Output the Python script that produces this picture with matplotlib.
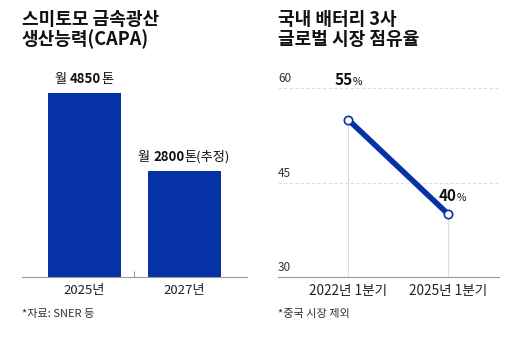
import matplotlib
matplotlib.use("Agg")
import matplotlib.pyplot as plt

plt.rcParams['font.family'] = ['Noto Sans CJK KR', 'DejaVu Sans']

# left chart data
cap_years = ['2025년', '2027년']
cap_values = [4850, 2800]
cap_prefix = ['월 ', '월 ']
cap_suffix = ['톤', '톤(추정)']

# right chart data
share_periods = ['2022년 1분기', '2025년 1분기']
share_values = [55, 40]
share_ticks = [30, 45, 60]

BLUE = '#0632a8'
W, H = 520, 355

fig = plt.figure(figsize=(W / 100, H / 100), dpi=100)


def box(x0, y0, x1, y1):
    # pixel box (top-left origin) -> figure fraction
    return [x0 / W, 1 - y1 / H, (x1 - x0) / W, (y1 - y0) / H]


def rich_text(ax, x, y, parts, gap=0.0, **kw):
    # draw text pieces side by side, centered on x (data), baseline y
    fig.canvas.draw()
    r = fig.canvas.get_renderer()
    texts = [ax.text(0, 0, s, **props, **kw) for s, props in parts]
    widths = [t.get_window_extent(r).width for t in texts]
    total = sum(widths) + gap * (len(texts) - 1)
    px, py = ax.transData.transform((x, y))
    cur = px - total / 2
    inv = ax.transData.inverted()
    for t, w in zip(texts, widths):
        t.set_position(inv.transform((cur, py)))
        t.set_ha('left')
        cur += w + gap
    return texts


# ---------- left ----------
ax1 = fig.add_axes(box(22, 80, 247, 277))
xs = range(len(cap_values))
ax1.bar(xs, cap_values, width=0.73, color=BLUE)
ax1.set_xlim(-0.62, 1.63)
ax1.set_ylim(0, 4850 * 197 / 184)
for s in ['top', 'left', 'right']:
    ax1.spines[s].set_visible(False)
ax1.spines['bottom'].set_color('#999999')
ax1.set_yticks([])
ax1.set_xticks([0.5])
ax1.set_xticklabels([''])
ax1.tick_params(axis='x', direction='in', length=4, color='#999999')
for i, lab in enumerate(cap_years):
    ax1.annotate(lab, (i, 0), xycoords=('data', 'axes fraction'), xytext=(0, -5),
                 textcoords='offset points', ha='center', va='top', fontsize=9.5, color='#222222')

fig.text(22 / W, 1 - 10 / H, '스미토모 금속광산\n생산능력(CAPA)', fontsize=13, fontweight='bold',
         color='#111111', va='top', ha='left', linespacing=1.05)
fig.text(22 / W, 1 - 319 / H, '*자료: SNER 등', fontsize=8, color='#333333', va='bottom')

# ---------- right ----------
ax2 = fig.add_axes(box(278, 75, 499, 277))
xs2 = list(range(len(share_values)))
ax2.set_xlim(-0.7, 1.51)
ax2.set_ylim(30, 30 + 202 / 6.3)
for yv in share_ticks[1:]:
    ax2.axhline(yv, color='#dddddd', lw=0.8, ls=(0, (3, 2)), zorder=0)
ax2.vlines(xs2, 30, share_values, color='#dddddd', lw=0.8, zorder=0)
ax2.plot(xs2, share_values, color=BLUE, lw=4, solid_capstyle='butt', zorder=2)
ax2.plot(xs2, share_values, ls='none', marker='o', ms=6, mfc='white', mec=BLUE, mew=1.2, zorder=3)
for s in ['top', 'left', 'right']:
    ax2.spines[s].set_visible(False)
ax2.spines['bottom'].set_color('#999999')
ax2.set_yticks([])
ax2.set_xticks(xs2)
ax2.set_xticklabels(share_periods, fontsize=9.8, color='#222222')
ax2.tick_params(axis='x', length=0, pad=5)
for yv in share_ticks:
    ax2.annotate(str(yv), (0, yv), xycoords=('axes fraction', 'data'), xytext=(0, 2),
                 textcoords='offset points', ha='left', va='bottom', fontsize=8.5, color='#333333')

fig.text(278 / W, 1 - 10 / H, '국내 배터리 3사\n글로벌 시장 점유율', fontsize=13, fontweight='bold',
         color='#111111', va='top', ha='left', linespacing=1.05)
fig.text(278 / W, 1 - 319 / H, '*중국 시장 제외', fontsize=8, color='#333333', va='bottom')

# value labels
for i, v in enumerate(cap_values):
    rich_text(ax1, i, v + 4850 * 10 / 184,
              [(cap_prefix[i], dict(fontweight='normal')),
               (str(v), dict(fontweight='bold')),
               (cap_suffix[i], dict(fontweight='normal'))],
              fontsize=9.5, color='#111111', va='baseline')

share_off = [(0, 5.5), (0.04, 2.0)]
for i, v in enumerate(share_values):
    dx, dy = share_off[i]
    rich_text(ax2, i + dx, v + dy,
              [(str(v), dict(fontweight='bold', fontsize=11)),
               ('%', dict(fontweight='normal', fontsize=7.5))],
              color='#111111', va='baseline')

fig.savefig('out.png', dpi=100)
